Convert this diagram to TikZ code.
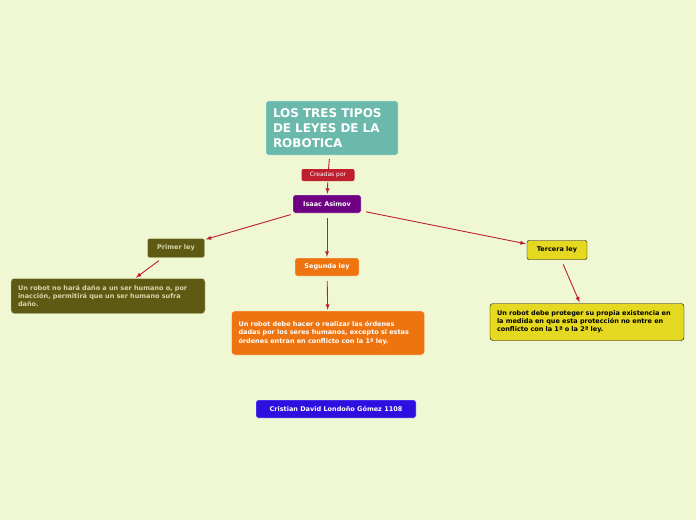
\documentclass[tikz,border=0pt]{standalone}
\usepackage{fontspec}
\setmainfont{DejaVu Sans}
\begin{document}
\begin{tikzpicture}[x=1pt,y=-1pt,
  box/.style={rounded corners=2pt,inner sep=0pt,font=\bfseries\fontsize{6.5}{8}\selectfont,align=center},
  para/.style={rounded corners=3pt,inner xsep=7pt,inner ysep=0pt,font=\bfseries\fontsize{6.5}{8.2}\selectfont,align=left},
  con/.style={draw={rgb,255:red,190;green,30;blue,45},line width=0.9pt,-latex,shorten <=5pt,shorten >=1pt}]
\definecolor{bg}{RGB}{239,248,210}
\definecolor{teal}{RGB}{106,185,170}
\definecolor{redb}{RGB}{190,30,45}
\definecolor{purp}{RGB}{110,0,130}
\definecolor{olive}{RGB}{94,90,20}
\definecolor{oliv}{RGB}{215,215,170}
\definecolor{orng}{RGB}{238,116,16}
\definecolor{yell}{RGB}{229,216,32}
\definecolor{blu}{RGB}{46,15,224}
\fill[bg] (0,0) rectangle (696,520);
\useasboundingbox (0,0) rectangle (696,520);
\node[box,fill=teal,draw=white,text=white,minimum width=132pt,minimum height=54pt,align=left,font=\bfseries\fontsize{12}{15}\selectfont,text width=118pt] (t) at (332,128) {LOS TRES TIPOS DE LEYES DE LA ROBOTICA};
\node[box,fill=redb,text=white,minimum width=53pt,minimum height=12pt,font=\fontsize{6}{7}\selectfont] (c) at (328,175) {Creadas por};
\node[box,fill=purp,draw=white,text=white,minimum width=68pt,minimum height=18pt] (ia) at (327,204) {Isaac Asimov};
\node[box,fill=olive,draw=oliv,text=oliv,minimum width=57pt,minimum height=19pt] (p) at (176,248) {Primer ley};
\node[para,fill=olive,draw=oliv,text=oliv,minimum width=194pt,minimum height=35pt,text width=180pt] (pt) at (108,296) {Un robot no hará daño a un ser humano o, por inacción, permitirá que un ser humano sufra daño.};
\node[box,fill=orng,draw=white,text=white,minimum width=64pt,minimum height=18pt] (s) at (327,267) {Segunda ley};
\node[para,fill=orng,draw=white,text=white,minimum width=193pt,minimum height=44pt,text width=179pt] (st) at (328,333) {Un robot debe hacer o realizar las órdenes dadas por los seres humanos, excepto si estas órdenes entran en conflicto con la 1º ley.};
\node[box,fill=yell,draw=black,minimum width=60pt,minimum height=19pt] (te) at (557,250) {Tercera ley};
\node[para,fill=yell,draw=black,minimum width=194pt,minimum height=37pt,text width=180pt] (tt) at (587,322) {Un robot debe proteger su propia existencia en la medida en que esta protección no entre en conflicto con la 1ª o la 2ª ley.};
\node[box,fill=blu,draw=white,text=white,minimum width=160pt,minimum height=18pt] (cr) at (336,409) {Cristian David Londoño Gómez 1108};
\draw[redb,line width=0.9pt,shorten <=4pt] (t) -- (c);
\draw[con,shorten <=1pt] (c) -- (ia);
\draw[con] (ia) -- (p);
\draw[con] (ia) -- (s);
\draw[con] (ia) -- (te);
\draw[con] (p) -- (pt.north -| 135,0);
\draw[con] (s) -- (st);
\draw[con] (te) -- (tt.north -| 580,0);
\end{tikzpicture}
\end{document}
